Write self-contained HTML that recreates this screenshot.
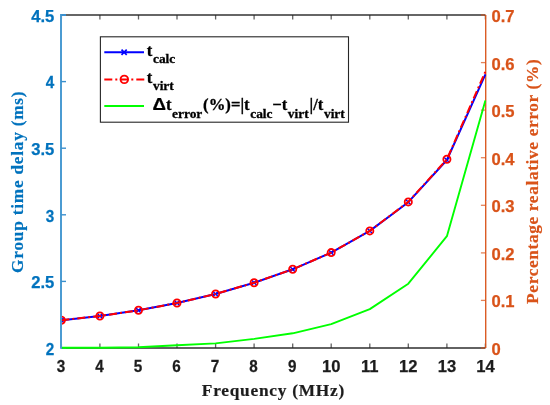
<!DOCTYPE html>
<html><head><meta charset="utf-8"><title>Group time delay</title>
<style>
html,body{margin:0;padding:0;background:#fff;}
svg{display:block;}
.sans{font-family:"Liberation Sans",Arial,sans-serif;font-weight:bold;}
.serif{font-family:"Liberation Serif","Times New Roman",serif;font-weight:bold;}
</style></head><body>
<svg width="550" height="405" viewBox="0 0 550 405">
<rect x="0" y="0" width="550" height="405" fill="#ffffff"/>

<g fill="none" stroke-width="1.8" stroke-opacity="0.72">
<line x1="61.4" y1="348.1" x2="485.4" y2="348.1" stroke="#2e2e2e" stroke-width="1.5" stroke-opacity="1"/>
<line x1="61.4" y1="15.0" x2="485.4" y2="15.0" stroke="#666666" stroke-width="2" stroke-opacity="1"/>
<line x1="61.4" y1="348.0" x2="61.4" y2="343.5" stroke="#262626" stroke-width="1.3"/>
<line x1="61.4" y1="15.0" x2="61.4" y2="19.5" stroke="#262626" stroke-width="1.3"/>
<line x1="99.9" y1="348.0" x2="99.9" y2="343.5" stroke="#262626" stroke-width="1.3"/>
<line x1="99.9" y1="15.0" x2="99.9" y2="19.5" stroke="#262626" stroke-width="1.3"/>
<line x1="138.5" y1="348.0" x2="138.5" y2="343.5" stroke="#262626" stroke-width="1.3"/>
<line x1="138.5" y1="15.0" x2="138.5" y2="19.5" stroke="#262626" stroke-width="1.3"/>
<line x1="177.0" y1="348.0" x2="177.0" y2="343.5" stroke="#262626" stroke-width="1.3"/>
<line x1="177.0" y1="15.0" x2="177.0" y2="19.5" stroke="#262626" stroke-width="1.3"/>
<line x1="215.6" y1="348.0" x2="215.6" y2="343.5" stroke="#262626" stroke-width="1.3"/>
<line x1="215.6" y1="15.0" x2="215.6" y2="19.5" stroke="#262626" stroke-width="1.3"/>
<line x1="254.1" y1="348.0" x2="254.1" y2="343.5" stroke="#262626" stroke-width="1.3"/>
<line x1="254.1" y1="15.0" x2="254.1" y2="19.5" stroke="#262626" stroke-width="1.3"/>
<line x1="292.7" y1="348.0" x2="292.7" y2="343.5" stroke="#262626" stroke-width="1.3"/>
<line x1="292.7" y1="15.0" x2="292.7" y2="19.5" stroke="#262626" stroke-width="1.3"/>
<line x1="331.2" y1="348.0" x2="331.2" y2="343.5" stroke="#262626" stroke-width="1.3"/>
<line x1="331.2" y1="15.0" x2="331.2" y2="19.5" stroke="#262626" stroke-width="1.3"/>
<line x1="369.8" y1="348.0" x2="369.8" y2="343.5" stroke="#262626" stroke-width="1.3"/>
<line x1="369.8" y1="15.0" x2="369.8" y2="19.5" stroke="#262626" stroke-width="1.3"/>
<line x1="408.3" y1="348.0" x2="408.3" y2="343.5" stroke="#262626" stroke-width="1.3"/>
<line x1="408.3" y1="15.0" x2="408.3" y2="19.5" stroke="#262626" stroke-width="1.3"/>
<line x1="446.9" y1="348.0" x2="446.9" y2="343.5" stroke="#262626" stroke-width="1.3"/>
<line x1="446.9" y1="15.0" x2="446.9" y2="19.5" stroke="#262626" stroke-width="1.3"/>
<line x1="485.4" y1="348.0" x2="485.4" y2="343.5" stroke="#262626" stroke-width="1.3"/>
<line x1="485.4" y1="15.0" x2="485.4" y2="19.5" stroke="#262626" stroke-width="1.3"/>
<line x1="61" y1="14.0" x2="61" y2="348.8" stroke="#4b9bd2" stroke-width="2" stroke-opacity="1"/>
<line x1="485.7" y1="15.0" x2="485.7" y2="348.0" stroke="#D95319" stroke-width="1.4" stroke-opacity="0.95"/>
<line x1="61.4" y1="348.0" x2="66.0" y2="348.0" stroke="#3a8fcd" stroke-width="1.4" stroke-opacity="1"/>
<line x1="61.4" y1="281.4" x2="66.0" y2="281.4" stroke="#3a8fcd" stroke-width="1.4" stroke-opacity="1"/>
<line x1="61.4" y1="214.8" x2="66.0" y2="214.8" stroke="#3a8fcd" stroke-width="1.4" stroke-opacity="1"/>
<line x1="61.4" y1="148.2" x2="66.0" y2="148.2" stroke="#3a8fcd" stroke-width="1.4" stroke-opacity="1"/>
<line x1="61.4" y1="81.6" x2="66.0" y2="81.6" stroke="#3a8fcd" stroke-width="1.4" stroke-opacity="1"/>
<line x1="61.4" y1="15.0" x2="66.0" y2="15.0" stroke="#3a8fcd" stroke-width="2" stroke-opacity="1"/>
<line x1="485.4" y1="348.0" x2="480.9" y2="348.0" stroke="#D95319" stroke-width="1.3"/>
<line x1="485.4" y1="300.4" x2="480.9" y2="300.4" stroke="#D95319" stroke-width="1.3"/>
<line x1="485.4" y1="252.9" x2="480.9" y2="252.9" stroke="#D95319" stroke-width="1.3"/>
<line x1="485.4" y1="205.3" x2="480.9" y2="205.3" stroke="#D95319" stroke-width="1.3"/>
<line x1="485.4" y1="157.7" x2="480.9" y2="157.7" stroke="#D95319" stroke-width="1.3"/>
<line x1="485.4" y1="110.1" x2="480.9" y2="110.1" stroke="#D95319" stroke-width="1.3"/>
<line x1="485.4" y1="62.6" x2="480.9" y2="62.6" stroke="#D95319" stroke-width="1.3"/>
<line x1="485.4" y1="15.0" x2="480.9" y2="15.0" stroke="#D95319" stroke-width="1.3"/>
</g>
<g class="sans" font-size="16.6" fill="#1c1c1c" stroke="#1c1c1c" stroke-width="0.25" text-anchor="middle">
<text transform="translate(60.9,371.7) scale(0.92,1)">3</text>
<text transform="translate(99.4,371.7) scale(0.92,1)">4</text>
<text transform="translate(138.0,371.7) scale(0.92,1)">5</text>
<text transform="translate(176.5,371.7) scale(0.92,1)">6</text>
<text transform="translate(215.1,371.7) scale(0.92,1)">7</text>
<text transform="translate(253.6,371.7) scale(0.92,1)">8</text>
<text transform="translate(292.2,371.7) scale(0.92,1)">9</text>
<text x="331.2" y="371.7">10</text>
<text x="369.8" y="371.7">11</text>
<text x="408.3" y="371.7">12</text>
<text x="446.9" y="371.7">13</text>
<text x="485.4" y="371.7">14</text>
</g>
<g class="sans" font-size="16.6" fill="#0072BD" stroke="#0072BD" stroke-width="0.25" text-anchor="end">
<text transform="translate(54.3,354.7) scale(0.92,1)">2</text>
<text x="54.3" y="288.1">2.5</text>
<text transform="translate(54.3,221.5) scale(0.92,1)">3</text>
<text x="54.3" y="154.9">3.5</text>
<text transform="translate(54.3,88.3) scale(0.92,1)">4</text>
<text x="54.3" y="21.7">4.5</text>
</g>
<g class="sans" font-size="16.6" fill="#D95319" stroke="#D95319" stroke-width="0.25" text-anchor="start">
<text x="491.5" y="355.0">0</text>
<text x="491.5" y="307.4">0.1</text>
<text x="491.5" y="259.9">0.2</text>
<text x="491.5" y="212.3">0.3</text>
<text x="491.5" y="164.7">0.4</text>
<text x="491.5" y="117.1">0.5</text>
<text x="491.5" y="69.6">0.6</text>
<text x="491.5" y="22.0">0.7</text>
</g>
<text class="serif" font-size="17.3" letter-spacing="0.76" fill="#1c1c1c" stroke="#1c1c1c" stroke-width="0.2" text-anchor="middle" x="273.4" y="395.5">Frequency (MHz)</text>
<text class="serif" font-size="17.3" letter-spacing="0.76" fill="#0072BD" stroke="#0072BD" stroke-width="0.2" text-anchor="middle" transform="translate(23,181.8) rotate(-90)">Group time delay (ms)</text>
<text class="serif" font-size="17.3" letter-spacing="0.65" fill="#D95319" stroke="#D95319" stroke-width="0.2" text-anchor="middle" transform="translate(537.8,181.3) rotate(-90)">Percentage realative error (%)</text>
<defs><clipPath id="plotclip"><rect x="62" y="14" width="424.4" height="335.2"/></clipPath></defs>
<g clip-path="url(#plotclip)">
<polyline fill="none" stroke="#00ff00" stroke-width="1.9" stroke-linejoin="round" points="61.4,347.7 99.9,347.7 138.5,347.3 177.0,345.3 215.6,343.4 254.1,338.9 292.7,333.3 331.2,324.2 369.8,309.1 408.3,283.7 446.9,236.2 485.4,100.5"/>
<polyline fill="none" stroke="#0000ff" stroke-width="2" stroke-linejoin="round" points="61.4,320.2 99.9,316.0 138.5,310.3 177.0,303.0 215.6,294.0 254.1,282.7 292.7,269.3 331.2,252.6 369.8,230.9 408.3,202.2 446.9,160.0 485.4,74.4"/>
<path d="M58.8,317.6L64.0,322.8M58.8,322.8L64.0,317.6" stroke="#0000ff" stroke-width="1.4" fill="none"/>
<path d="M97.3,313.4L102.5,318.6M97.3,318.6L102.5,313.4" stroke="#0000ff" stroke-width="1.4" fill="none"/>
<path d="M135.9,307.7L141.1,312.9M135.9,312.9L141.1,307.7" stroke="#0000ff" stroke-width="1.4" fill="none"/>
<path d="M174.4,300.4L179.6,305.6M174.4,305.6L179.6,300.4" stroke="#0000ff" stroke-width="1.4" fill="none"/>
<path d="M213.0,291.4L218.2,296.6M213.0,296.6L218.2,291.4" stroke="#0000ff" stroke-width="1.4" fill="none"/>
<path d="M251.5,280.1L256.7,285.3M251.5,285.3L256.7,280.1" stroke="#0000ff" stroke-width="1.4" fill="none"/>
<path d="M290.1,266.7L295.3,271.9M290.1,271.9L295.3,266.7" stroke="#0000ff" stroke-width="1.4" fill="none"/>
<path d="M328.6,250.0L333.8,255.2M328.6,255.2L333.8,250.0" stroke="#0000ff" stroke-width="1.4" fill="none"/>
<path d="M367.2,228.3L372.4,233.5M367.2,233.5L372.4,228.3" stroke="#0000ff" stroke-width="1.4" fill="none"/>
<path d="M405.7,199.6L410.9,204.8M405.7,204.8L410.9,199.6" stroke="#0000ff" stroke-width="1.4" fill="none"/>
<path d="M444.3,157.4L449.5,162.6M444.3,162.6L449.5,157.4" stroke="#0000ff" stroke-width="1.4" fill="none"/>
<polyline fill="none" stroke="#ff0000" stroke-width="2" stroke-dasharray="8,3,2,3" stroke-linejoin="round" points="61.4,320.2 99.9,316.0 138.5,310.3 177.0,303.0 215.6,294.0 254.1,282.7 292.7,269.3 331.2,252.6 369.8,230.9 408.3,201.9 446.9,159.3 485.4,71.6"/>
<circle cx="61.4" cy="320.2" r="3.6" stroke="#ff0000" stroke-width="1.8" fill="none"/>
<circle cx="99.9" cy="316.0" r="3.6" stroke="#ff0000" stroke-width="1.8" fill="none"/>
<circle cx="138.5" cy="310.3" r="3.6" stroke="#ff0000" stroke-width="1.8" fill="none"/>
<circle cx="177.0" cy="303.0" r="3.6" stroke="#ff0000" stroke-width="1.8" fill="none"/>
<circle cx="215.6" cy="294.0" r="3.6" stroke="#ff0000" stroke-width="1.8" fill="none"/>
<circle cx="254.1" cy="282.7" r="3.6" stroke="#ff0000" stroke-width="1.8" fill="none"/>
<circle cx="292.7" cy="269.3" r="3.6" stroke="#ff0000" stroke-width="1.8" fill="none"/>
<circle cx="331.2" cy="252.6" r="3.6" stroke="#ff0000" stroke-width="1.8" fill="none"/>
<circle cx="369.8" cy="230.9" r="3.6" stroke="#ff0000" stroke-width="1.8" fill="none"/>
<circle cx="408.3" cy="201.9" r="3.6" stroke="#ff0000" stroke-width="1.8" fill="none"/>
<circle cx="446.9" cy="159.3" r="3.6" stroke="#ff0000" stroke-width="1.8" fill="none"/>
</g>
<rect x="100.4" y="36.8" width="248.1" height="85.4" fill="#ffffff" stroke="#262626" stroke-width="1.1"/>
<line x1="104.3" y1="52.2" x2="144" y2="52.2" stroke="#0000ff" stroke-width="2"/>
<path d="M121.5,49.6L126.7,54.8M121.5,54.8L126.7,49.6" stroke="#0000ff" stroke-width="1.7" fill="none"/>
<line x1="104.3" y1="79.4" x2="144.3" y2="79.4" stroke="#ff0000" stroke-width="2" stroke-dasharray="8,3,2,3"/>
<circle cx="124.3" cy="79.4" r="3.75" stroke="#ff0000" stroke-width="1.9" fill="none"/>
<line x1="104.3" y1="106" x2="144" y2="106" stroke="#00ff00" stroke-width="1.9"/>
<text class="serif" font-size="16.7" fill="#000" stroke="#000" stroke-width="0.3" x="146.8" y="55.9"><tspan>t</tspan><tspan font-size="13.4" dy="7.4" dx="0.6">calc</tspan></text>
<text class="serif" font-size="16.7" fill="#000" stroke="#000" stroke-width="0.3" x="146.8" y="82.5"><tspan>t</tspan><tspan font-size="13.4" dy="7.4" dx="0.6">virt</tspan></text>
<text class="sans" font-size="15.6" fill="#000" stroke="#000" stroke-width="0.2" transform="translate(152.6,109.9) scale(1.2,1)">Δ</text>
<text class="serif" font-size="16.7" fill="#000" stroke="#000" stroke-width="0.3" x="165.9" y="110.1"><tspan>t</tspan><tspan font-size="13.4" dy="7.4" dx="0.6">error</tspan><tspan dy="-7.4" dx="0.8">(%)=|t</tspan><tspan font-size="13.4" dy="7.4" dx="0.6">calc</tspan><tspan dy="-7.4" dx="-0.4">−t</tspan><tspan font-size="13.4" dy="7.4" dx="0.6">virt</tspan><tspan dy="-7.4" dx="0.8">|/t</tspan><tspan font-size="13.4" dy="7.4" dx="0.6">virt</tspan></text>
</svg></body></html>
